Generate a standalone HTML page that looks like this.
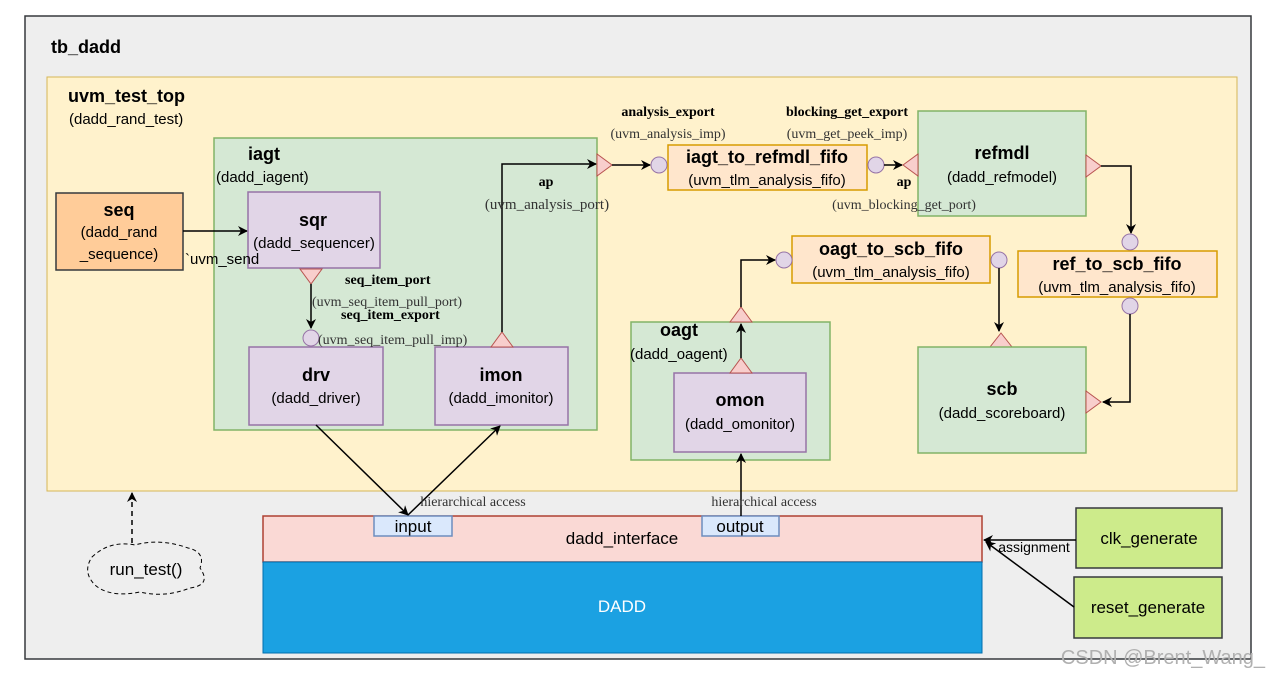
<!DOCTYPE html>
<html><head><meta charset="utf-8"><style>
html,body{margin:0;padding:0;background:#fff;}
svg{display:block;}
.s{font-family:"Liberation Sans",sans-serif;}
.f{font-family:"Liberation Serif",serif;}
</style></head><body>
<svg width="1268" height="676" viewBox="0 0 1268 676" xmlns="http://www.w3.org/2000/svg">
<defs>
<marker id="a" markerWidth="10" markerHeight="10" refX="9" refY="5" orient="auto" markerUnits="userSpaceOnUse"><path d="M0,0 L10,5 L0,10 L3,5 z" fill="#000"/></marker>
</defs>
<rect x="25" y="16" width="1226" height="643" fill="#eeeeee" stroke="#36393d" stroke-width="1.5"/>
<text x="51" y="53" class="s" font-size="18" font-weight="bold">tb_dadd</text>
<rect x="47" y="77" width="1190" height="414" fill="#fff2cc" stroke="#d6b656"/>
<text x="68" y="102" class="s" font-size="18" font-weight="bold">uvm_test_top</text>
<text x="69" y="124" class="s" font-size="15">(dadd_rand_test)</text>

<rect x="214" y="138" width="383" height="292" fill="#d5e8d4" stroke="#82b366" stroke-width="1.5"/>
<text x="248" y="160" class="s" font-size="18" font-weight="bold">iagt</text>
<text x="216" y="182" class="s" font-size="15">(dadd_iagent)</text>

<rect x="56" y="193" width="127" height="77" fill="#ffcc99" stroke="#36393d" stroke-width="1.5"/>
<text x="119" y="216" class="s" font-size="18" font-weight="bold" text-anchor="middle">seq</text>
<text x="119" y="237" class="s" font-size="15" text-anchor="middle">(dadd_rand</text>
<text x="119" y="259" class="s" font-size="15" text-anchor="middle">_sequence)</text>
<line x1="183" y1="231" x2="247" y2="231" stroke="#000" stroke-width="1.5" marker-end="url(#a)"/>

<rect x="248" y="192" width="132" height="76" fill="#e1d5e7" stroke="#9673a6" stroke-width="1.5"/>
<text x="313" y="226" class="s" font-size="18" font-weight="bold" text-anchor="middle">sqr</text>
<text x="314" y="248" class="s" font-size="15" text-anchor="middle">(dadd_sequencer)</text>
<text x="185" y="264" class="s" font-size="15">`uvm_send</text>
<polygon points="300,269 322,269 311,284" fill="#f8cecc" stroke="#b85450"/>
<line x1="311" y1="284" x2="311" y2="328" stroke="#000" stroke-width="1.5" marker-end="url(#a)"/>
<circle cx="311" cy="338" r="8" fill="#e1d5e7" stroke="#9673a6"/>

<rect x="249" y="347" width="134" height="78" fill="#e1d5e7" stroke="#9673a6" stroke-width="1.5"/>
<text x="316" y="381" class="s" font-size="18" font-weight="bold" text-anchor="middle">drv</text>
<text x="316" y="403" class="s" font-size="15" text-anchor="middle">(dadd_driver)</text>
<rect x="435" y="347" width="133" height="78" fill="#e1d5e7" stroke="#9673a6" stroke-width="1.5"/>
<text x="501" y="381" class="s" font-size="18" font-weight="bold" text-anchor="middle">imon</text>
<text x="501" y="403" class="s" font-size="15" text-anchor="middle">(dadd_imonitor)</text>
<polygon points="491,347 513,347 502,332" fill="#f8cecc" stroke="#b85450"/>
<polyline points="502,332 502,164 596,164" fill="none" stroke="#000" stroke-width="1.5" marker-end="url(#a)"/>
<polygon points="597,154 597,176 612,165" fill="#f8cecc" stroke="#b85450"/>
<line x1="612" y1="165" x2="650" y2="165" stroke="#000" stroke-width="1.5" marker-end="url(#a)"/>
<circle cx="659" cy="165" r="8" fill="#e1d5e7" stroke="#9673a6"/>

<rect x="668" y="145" width="199" height="45" fill="#ffe6cc" stroke="#d79b00" stroke-width="1.5"/>
<text x="767" y="163" class="s" font-size="18" font-weight="bold" text-anchor="middle">iagt_to_refmdl_fifo</text>
<text x="767" y="185" class="s" font-size="15" text-anchor="middle">(uvm_tlm_analysis_fifo)</text>
<circle cx="876" cy="165" r="8" fill="#e1d5e7" stroke="#9673a6"/>
<line x1="884" y1="165" x2="902" y2="165" stroke="#000" stroke-width="1.5" marker-end="url(#a)"/>

<rect x="918" y="111" width="168" height="105" fill="#d5e8d4" stroke="#82b366" stroke-width="1.5"/>
<text x="1002" y="159" class="s" font-size="18" font-weight="bold" text-anchor="middle">refmdl</text>
<text x="1002" y="182" class="s" font-size="15" text-anchor="middle">(dadd_refmodel)</text>
<polygon points="918,154 918,176 903,165" fill="#f8cecc" stroke="#b85450"/>
<polygon points="1086,155 1086,177 1101,166" fill="#f8cecc" stroke="#b85450"/>
<polyline points="1101,166 1131,166 1131,233" fill="none" stroke="#000" stroke-width="1.5" marker-end="url(#a)"/>
<circle cx="1130" cy="242" r="8" fill="#e1d5e7" stroke="#9673a6"/>
<rect x="1018" y="251" width="199" height="46" fill="#ffe6cc" stroke="#d79b00" stroke-width="1.5"/>
<text x="1117" y="270" class="s" font-size="18" font-weight="bold" text-anchor="middle">ref_to_scb_fifo</text>
<text x="1117" y="292" class="s" font-size="15" text-anchor="middle">(uvm_tlm_analysis_fifo)</text>
<circle cx="1130" cy="306" r="8" fill="#e1d5e7" stroke="#9673a6"/>
<polyline points="1130,314 1130,402 1103,402" fill="none" stroke="#000" stroke-width="1.5" marker-end="url(#a)"/>

<rect x="792" y="236" width="198" height="47" fill="#ffe6cc" stroke="#d79b00" stroke-width="1.5"/>
<text x="891" y="255" class="s" font-size="18" font-weight="bold" text-anchor="middle">oagt_to_scb_fifo</text>
<text x="891" y="277" class="s" font-size="15" text-anchor="middle">(uvm_tlm_analysis_fifo)</text>
<circle cx="784" cy="260" r="8" fill="#e1d5e7" stroke="#9673a6"/>
<circle cx="999" cy="260" r="8" fill="#e1d5e7" stroke="#9673a6"/>
<line x1="999" y1="268" x2="999" y2="331" stroke="#000" stroke-width="1.5" marker-end="url(#a)"/>
<polygon points="990,347 1012,347 1001,333" fill="#f8cecc" stroke="#b85450"/>

<rect x="918" y="347" width="168" height="106" fill="#d5e8d4" stroke="#82b366" stroke-width="1.5"/>
<text x="1002" y="395" class="s" font-size="18" font-weight="bold" text-anchor="middle">scb</text>
<text x="1002" y="418" class="s" font-size="15" text-anchor="middle">(dadd_scoreboard)</text>
<polygon points="1086,391 1086,413 1101,402" fill="#f8cecc" stroke="#b85450"/>

<rect x="631" y="322" width="199" height="138" fill="#d5e8d4" stroke="#82b366" stroke-width="1.5"/>
<text x="660" y="336" class="s" font-size="18" font-weight="bold">oagt</text>
<text x="630" y="359" class="s" font-size="15">(dadd_oagent)</text>
<polygon points="730,322 752,322 741,307" fill="#f8cecc" stroke="#b85450"/>
<polyline points="741,307 741,260 775,260" fill="none" stroke="#000" stroke-width="1.5" marker-end="url(#a)"/>
<rect x="674" y="373" width="132" height="79" fill="#e1d5e7" stroke="#9673a6" stroke-width="1.5"/>
<text x="740" y="406" class="s" font-size="18" font-weight="bold" text-anchor="middle">omon</text>
<text x="740" y="429" class="s" font-size="15" text-anchor="middle">(dadd_omonitor)</text>
<polygon points="730,373 752,373 741,358" fill="#f8cecc" stroke="#b85450"/>
<line x1="741" y1="358" x2="741" y2="324" stroke="#000" stroke-width="1.5" marker-end="url(#a)"/>

<rect x="263" y="516" width="719" height="46" fill="#fad9d5" stroke="#ae4132" stroke-width="1.5"/>
<text x="622" y="544" class="s" font-size="17" text-anchor="middle">dadd_interface</text>
<rect x="263" y="562" width="719" height="91" fill="#1ba1e2" stroke="#006eaf"/>
<text x="622" y="612" class="s" font-size="17" fill="#fff" text-anchor="middle">DADD</text>
<rect x="374" y="516" width="78" height="20" fill="#dae8fc" stroke="#6c8ebf" stroke-width="1.5"/>
<text x="413" y="532" class="s" font-size="17" text-anchor="middle">input</text>
<rect x="702" y="516" width="77" height="20" fill="#dae8fc" stroke="#6c8ebf" stroke-width="1.5"/>
<text x="740" y="532" class="s" font-size="17" text-anchor="middle">output</text>
<line x1="316" y1="425" x2="408" y2="515" stroke="#000" stroke-width="1.5" marker-end="url(#a)"/>
<line x1="408" y1="515" x2="500" y2="426" stroke="#000" stroke-width="1.5" marker-end="url(#a)"/>
<text x="473" y="506" class="f" font-size="14" fill="#333" text-anchor="middle">hierarchical access</text>
<line x1="741" y1="516" x2="741" y2="454" stroke="#000" stroke-width="1.5" marker-end="url(#a)"/>
<text x="764" y="506" class="f" font-size="14" fill="#333" text-anchor="middle">hierarchical access</text>

<rect x="1076" y="508" width="146" height="60" fill="#cdeb8b" stroke="#36393d" stroke-width="1.5"/>
<text x="1149" y="544" class="s" font-size="17" text-anchor="middle">clk_generate</text>
<rect x="1074" y="577" width="148" height="61" fill="#cdeb8b" stroke="#36393d" stroke-width="1.5"/>
<text x="1148" y="613" class="s" font-size="17" text-anchor="middle">reset_generate</text>
<line x1="1076" y1="540" x2="984" y2="540" stroke="#000" stroke-width="1.5" marker-end="url(#a)"/>
<line x1="1074" y1="607" x2="986" y2="542" stroke="#000" stroke-width="1.5" marker-end="url(#a)"/>
<text x="1034" y="552" class="s" font-size="14" text-anchor="middle">assignment</text>

<path d="M92,557 Q110,540 135,545 Q160,538 188,548 Q206,552 200,568 Q212,585 190,588 Q165,598 140,592 Q110,598 95,585 Q82,572 92,557 z" fill="none" stroke="#000" stroke-dasharray="4,3"/>
<text x="146" y="575" class="s" font-size="17" text-anchor="middle">run_test()</text>
<line x1="132" y1="543" x2="132" y2="493" stroke="#000" stroke-width="1.5" stroke-dasharray="5,4" marker-end="url(#a)"/>

<!-- port labels on top -->
<text x="345" y="284" class="f" font-size="14" font-weight="bold">seq_item_port</text>
<text x="312" y="306" class="f" font-size="14" fill="#333">(uvm_seq_item_pull_port)</text>
<text x="341" y="319" class="f" font-size="14" font-weight="bold">seq_item_export</text>
<text x="318" y="344" class="f" font-size="14" fill="#333">(uvm_seq_item_pull_imp)</text>
<text x="546" y="186" class="f" font-size="14" font-weight="bold" text-anchor="middle">ap</text>
<text x="547" y="209" class="f" font-size="15" fill="#333" text-anchor="middle">(uvm_analysis_port)</text>
<text x="668" y="116" class="f" font-size="14" font-weight="bold" text-anchor="middle">analysis_export</text>
<text x="668" y="138" class="f" font-size="14" fill="#333" text-anchor="middle">(uvm_analysis_imp)</text>
<text x="847" y="116" class="f" font-size="14" font-weight="bold" text-anchor="middle">blocking_get_export</text>
<text x="847" y="138" class="f" font-size="14" fill="#333" text-anchor="middle">(uvm_get_peek_imp)</text>
<text x="904" y="186" class="f" font-size="14" font-weight="bold" text-anchor="middle">ap</text>
<text x="904" y="209" class="f" font-size="14" fill="#333" text-anchor="middle">(uvm_blocking_get_port)</text>

<text x="1265" y="664" class="s" font-size="20" fill="#b0b0b0" text-anchor="end">CSDN @Brent_Wang_</text>
</svg>
</body></html>
